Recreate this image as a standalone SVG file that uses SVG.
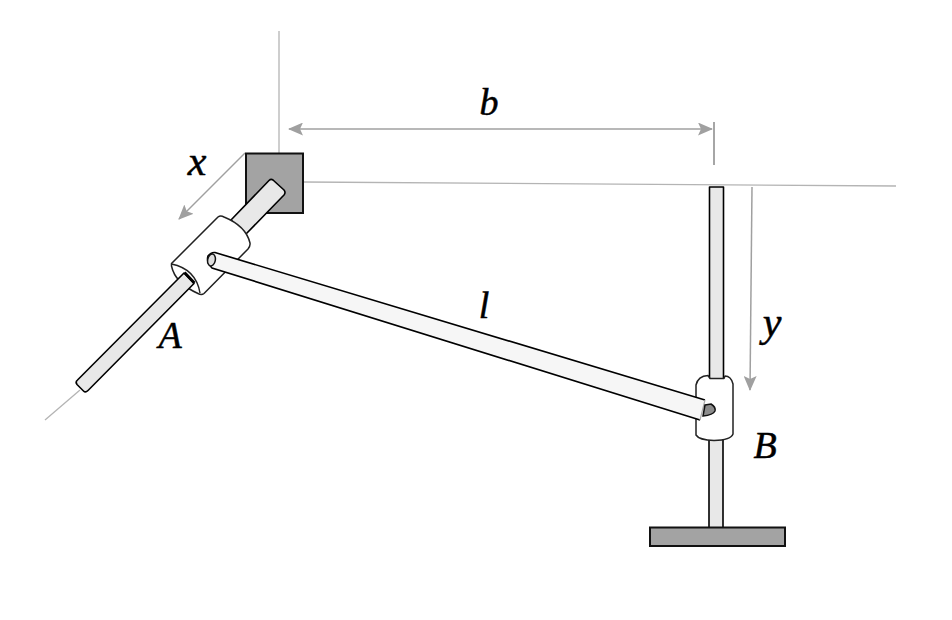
<svg xmlns="http://www.w3.org/2000/svg" width="952" height="620" viewBox="0 0 952 620">
<style>
.guide{fill:none;stroke:#b4b4b4;stroke-width:1.3}
.dim{fill:none;stroke:#a0a0a0;stroke-width:1.5}
.rod{fill:#e8e8e8;stroke:#000;stroke-width:1.6;stroke-linejoin:round}
.link{fill:#f6f6f6;stroke:none}
.edge{fill:none;stroke:#000;stroke-width:1.6}
.thin{fill:none;stroke:#222;stroke-width:1.4}
.collar{fill:#fff;stroke:#222;stroke-width:1.5;stroke-linejoin:round}
.block{fill:#a3a3a3;stroke:#111;stroke-width:2}
.lbl{font-family:"Liberation Serif",serif;font-style:italic;font-size:38px;fill:#000;stroke:#000;stroke-width:.5;text-anchor:middle}
</style>
<defs>
<marker id="ah" viewBox="0 0 15 13" refX="14" refY="6.500" markerWidth="15" markerHeight="13" markerUnits="userSpaceOnUse" orient="auto-start-reverse"><path d="M0,0L15,6.500L0,13L3,6.500Z" fill="#a0a0a0"/></marker>
</defs>
<g id="connectors">
<path class="guide" d="M279,31V153"/>
<path class="guide" d="M303,182L896,186"/>
<path class="guide" d="M80,390L45,420"/>
<path class="dim" d="M245,153L179,219" marker-end="url(#ah)"/>
<path class="dim" d="M289,129H712" marker-start="url(#ah)" marker-end="url(#ah)"/>
<path class="dim" d="M714,122V165" style="stroke:#888"/>
<path class="dim" d="M752,187L750,390" marker-end="url(#ah)"/>
</g>
<g id="block"><rect class="block" x="246" y="153.500" width="57" height="59.500"/></g>
<g id="slider-a">
<path class="rod" d="M269,180.500Q271,178.500 273,180L284,190Q286,192.500 284,195L246,234L231,220Z"/>
<path class="collar" d="M171.500,263.500L218,217Q220.500,215 224,217Q246,226 250,243Q250.500,246 248,249L204,293.500Q201.500,295.500 198,293.500Q175,283 171.500,266Z"/>
<path class="thin" d="M171.500,264Q196,269 200,293"/>
<path class="rod" d="M184,273L194,283.500L88,390.500Q85.500,393 83.500,391L77,384.500Q75,382 77.500,380Z"/>
<path d="M184.500,272.500L194.500,283" fill="none" stroke="#000" stroke-width="2.800"/>
</g>
<g id="slider-b">
<rect class="rod" x="709.500" y="187" width="14" height="192"/>
<rect class="rod" x="709" y="438" width="14" height="90"/>
<path class="collar" d="M696,385Q698,376 708,375.500L710,378.500H724L725,376Q731,376 733,384V434Q731,440 714,440.500Q699,440 696,435Z"/>
</g>
<g id="link-l">
<path class="link" d="M215,252.500L705,400L700,420L212,268Q206,262 208,256Q211,252 215,252.500Z"/>
<path class="edge" d="M705,400L215,252.500Q211,252 208,256Q206,262 212,268L700,420"/>
<path d="M705,400L700,420" fill="none" stroke="#aaa" stroke-width="1.200"/>
<ellipse cx="211.500" cy="260" rx="3.800" ry="6" transform="rotate(12 211.500 260)" fill="#ddd" stroke="#111" stroke-width="1.500"/>
<path d="M705,405L711,404Q716,407 715,411Q713,415 703,416Z" fill="#8c8c8c" stroke="#111" stroke-width="1.500"/>
</g>
<g id="base"><rect class="block" x="650" y="527.500" width="135" height="18.500"/></g>
<g id="labels">
<text class="lbl" x="489" y="115">b</text>
<text class="lbl" x="197" y="175" style="font-size:42px">x</text>
<text class="lbl" x="170" y="348">A</text>
<text class="lbl" x="484" y="318">l</text>
<text class="lbl" x="772" y="336" style="font-size:42px">y</text>
<text class="lbl" x="765" y="458">B</text>
</g>
</svg>
